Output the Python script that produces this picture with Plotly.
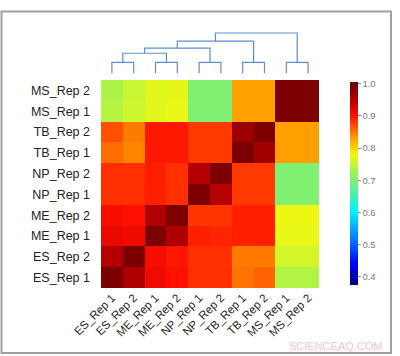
import plotly.graph_objects as go

# ---- data ----
samples = ["ES_Rep 1", "ES_Rep 2", "ME_Rep 1", "ME_Rep 2", "NP_Rep 1",
           "NP_Rep 2", "TB_Rep 1", "TB_Rep 2", "MS_Rep 1", "MS_Rep 2"]

# correlation matrix: rows bottom->top (same order as samples), columns left->right
corr_es1 = [0.99, 0.955, 0.91, 0.90, 0.885, 0.885, 0.852, 0.86, 0.735, 0.735]
corr_es2 = [0.952, 0.99, 0.905, 0.897, 0.885, 0.885, 0.848, 0.848, 0.76, 0.76]
corr_me1 = [0.915, 0.91, 0.99, 0.955, 0.892, 0.89, 0.892, 0.892, 0.775, 0.775]
corr_me2 = [0.905, 0.90, 0.955, 0.99, 0.882, 0.882, 0.893, 0.893, 0.778, 0.778]
corr_np1 = [0.885, 0.885, 0.892, 0.885, 0.99, 0.95, 0.88, 0.88, 0.70, 0.70]
corr_np2 = [0.885, 0.885, 0.893, 0.884, 0.952, 0.99, 0.88, 0.88, 0.70, 0.70]
corr_tb1 = [0.855, 0.843, 0.896, 0.896, 0.88, 0.88, 0.99, 0.966, 0.83, 0.83]
corr_tb2 = [0.869, 0.848, 0.896, 0.896, 0.88, 0.88, 0.968, 0.99, 0.83, 0.83]
corr_ms1 = [0.738, 0.755, 0.77, 0.775, 0.70, 0.70, 0.83, 0.83, 0.99, 0.99]
corr_ms2 = [0.733, 0.752, 0.77, 0.772, 0.70, 0.70, 0.83, 0.83, 0.99, 0.99]

z_rows = [corr_es1, corr_es2, corr_me1, corr_me2, corr_np1,
          corr_np2, corr_tb1, corr_tb2, corr_ms1, corr_ms2]

# dendrogram merges: (left member leaves, right member leaves, height)
merge_left = [[0], [2], [4], [6], [8], [0, 1], [0, 1, 2, 3], [0, 1, 2, 3, 4, 5], [0, 1, 2, 3, 4, 5, 6, 7]]
merge_right = [[1], [3], [5], [7], [9], [2, 3], [4, 5], [6, 7], [8, 9]]
merge_height = [0.11, 0.11, 0.11, 0.11, 0.11, 0.20, 0.25, 0.32, 0.40]

colorbar_ticks = [0.4, 0.5, 0.6, 0.7, 0.8, 0.9, 1.0]
colorbar_ticktext = ["0.4", "0.5", "0.6", "0.7", "0.8", "0.9", "1.0"]

# ---- figure ----
W, H = 400, 356
ZMIN, ZMAX = 0.375, 1.005
fig = go.Figure()

stops = [
    (0.375, "#00007f"), (0.44, "#0000ff"), (0.50, "#0060ff"), (0.60, "#00f0ff"),
    (0.70, "#80f070"), (0.78, "#f0f810"), (0.83, "#ffa000"),
    (0.90, "#ff1000"), (0.935, "#cc0000"), (1.005, "#680000"),
]
colorscale = [[(v - ZMIN) / (ZMAX - ZMIN), c] for v, c in stops]

n = len(samples)
fig.add_trace(go.Heatmap(
    z=z_rows, x=list(range(n)), y=list(range(n)),
    zmin=ZMIN, zmax=ZMAX, colorscale=colorscale, xgap=0, ygap=0,
    colorbar=dict(
        xref="container", yref="container",
        x=350 / W, xanchor="left", thickness=8,
        len=(285 - 82) / H, lenmode="fraction",
        y=1 - (285 + 82) / 2 / H, yanchor="middle",
        tickvals=colorbar_ticks, ticktext=colorbar_ticktext,
        ticks="outside", ticklen=3, tickcolor="#888",
        tickfont=dict(size=9.5, color="#777", family="Liberation Sans"),
        outlinewidth=0, xpad=0, ypad=0,
    ),
    hoverinfo="skip",
))

# dendrogram lines computed from merge data
node_pos = {}
for i in range(n):
    node_pos[(i,)] = (float(i), 0.0)

dx, dy = [], []
for L, R, h in zip(merge_left, merge_right, merge_height):
    lx, lh = node_pos[tuple(L)]
    rx, rh = node_pos[tuple(R)]
    dx += [lx, lx, rx, rx, None]
    dy += [lh, h, h, rh, None]
    node_pos[tuple(sorted(L + R))] = ((lx + rx) / 2, h)

fig.add_trace(go.Scatter(
    x=dx, y=dy, mode="lines", yaxis="y2",
    line=dict(color="#5b8fcf", width=1.2),
    hoverinfo="skip", showlegend=False,
))

fig.update_layout(
    width=W, height=H,
    margin=dict(l=0, r=0, t=0, b=0, autoexpand=False),
    paper_bgcolor="white", plot_bgcolor="white",
    showlegend=False,
    xaxis=dict(
        domain=[101 / W, 319 / W], range=[-0.5, n - 0.5],
        tickvals=list(range(n)), ticktext=samples, tickangle=-45,
        tickfont=dict(size=11.5, color="#222", family="Liberation Sans"),
        showgrid=False, zeroline=False, showline=False, ticks="",
        automargin=False,
    ),
    yaxis=dict(
        domain=[1 - 288 / H, 1 - 80 / H], range=[-0.5, n - 0.5],
        tickvals=list(range(n)), ticktext=samples,
        tickfont=dict(size=12.5, color="#222", family="Liberation Sans"),
        showgrid=False, zeroline=False, showline=False, ticks="",
        ticklabelstandoff=10, automargin=False,
    ),
    yaxis2=dict(
        domain=[1 - 73.5 / H, 1 - 31 / H], range=[0, 0.42], anchor="x",
        showgrid=False, zeroline=False, showline=False,
        showticklabels=False, ticks="", automargin=False,
    ),
    shapes=[dict(
        type="rect", xref="paper", yref="paper",
        x0=1.5 / W, x1=391 / W, y0=1 - 353 / H, y1=1 - 11.5 / H,
        line=dict(color="#a0a0a0", width=2), fillcolor="rgba(0,0,0,0)",
    )],
    annotations=[dict(
        text="SCIENCEAQ.COM", xref="paper", yref="paper",
        x=385 / W, y=1 - 346 / H, xanchor="right", yanchor="middle",
        showarrow=False,
        font=dict(size=11, color="#f2c4cc", family="Liberation Sans"),
    )],
)

fig.write_html(
    "out.html",
    config={"displayModeBar": False},
    post_script="document.body.style.margin='0';document.body.style.overflow='hidden';",
)
